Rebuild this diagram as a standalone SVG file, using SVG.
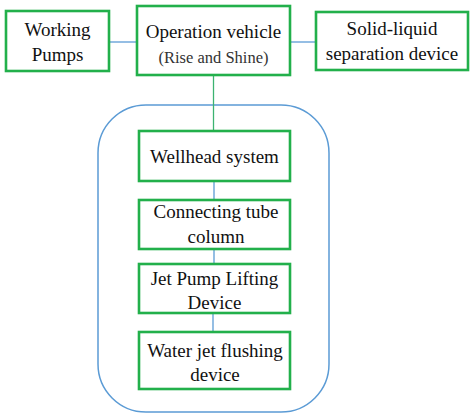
<svg xmlns="http://www.w3.org/2000/svg" width="474" height="418" viewBox="0 0 474 418">
<style>
.box{fill:#fff;stroke:#22b04b;stroke-width:2.6}
.t{font-family:"Liberation Serif","Times New Roman",serif;font-size:19px;fill:#111;text-anchor:middle}
.s{font-family:"Liberation Serif","Times New Roman",serif;font-size:16.5px;fill:#333;text-anchor:middle}
.ln{stroke:#5b9bd5;stroke-width:1.3;fill:none}
.lg{stroke:#3cb371;stroke-width:1.3;fill:none}
</style>
<rect width="474" height="418" fill="#fff"/>
<g id="container">
<rect x="98" y="105" width="231" height="307" rx="48" ry="48" fill="none" stroke="#5b9bd5" stroke-width="1.5"/>
</g>
<g id="connectors">
<line class="ln" x1="109" y1="42" x2="137" y2="42"/>
<line class="ln" x1="290" y1="42" x2="316" y2="42"/>
<line class="lg" x1="213.5" y1="75" x2="213.5" y2="131"/>
<line class="ln" x1="214" y1="181" x2="214" y2="200"/>
<line class="ln" x1="214" y1="249" x2="214" y2="264"/>
<line class="ln" x1="213" y1="313" x2="213" y2="332"/>
</g>
<g id="working-pumps">
<rect class="box" x="6" y="11" width="103" height="60"/>
<text class="t" x="57.5" y="36">Working</text>
<text class="t" x="57.5" y="61">Pumps</text>
</g>
<g id="operation-vehicle">
<rect class="box" x="137" y="6" width="153" height="69"/>
<text class="t" x="213.5" y="38">Operation vehicle</text>
<text class="s" x="213.5" y="63">(Rise and Shine)</text>
</g>
<g id="solid-liquid">
<rect class="box" x="316" y="12" width="152" height="58"/>
<text class="t" x="392" y="35">Solid-liquid</text>
<text class="t" x="392" y="60">separation device</text>
</g>
<g id="wellhead">
<rect class="box" x="139" y="131" width="151" height="50"/>
<text class="t" x="214.5" y="163">Wellhead system</text>
</g>
<g id="connecting-tube">
<rect class="box" x="139" y="200" width="151" height="49"/>
<text class="t" x="216" y="218">Connecting tube</text>
<text class="t" x="216" y="243">column</text>
</g>
<g id="jet-pump">
<rect class="box" x="139" y="264" width="151" height="49"/>
<text class="t" x="214.5" y="285">Jet Pump Lifting</text>
<text class="t" x="214.5" y="309">Device</text>
</g>
<g id="water-jet">
<rect class="box" x="139" y="332" width="151" height="57"/>
<text class="t" x="215" y="357">Water jet flushing</text>
<text class="t" x="215" y="381">device</text>
</g>
</svg>
